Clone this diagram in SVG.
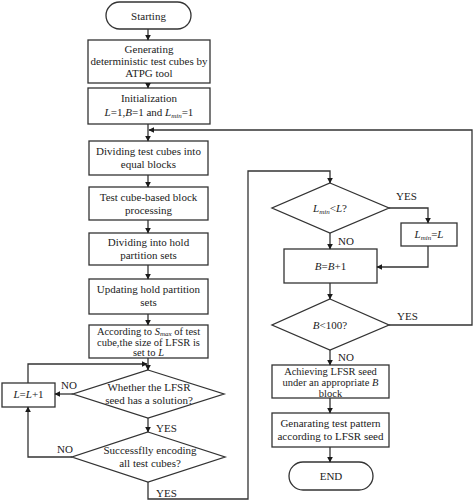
<svg xmlns="http://www.w3.org/2000/svg" width="474" height="502" viewBox="0 0 474 502">
<defs>
<marker id="ah" viewBox="0 0 10 10" refX="9" refY="5" markerWidth="6" markerHeight="6" orient="auto" markerUnits="userSpaceOnUse"><path d="M0,0 L10,5 L0,10 z" fill="#1a1a1a"/></marker>
<style>
.s{fill:#fff;stroke:#333;stroke-width:1.3}
.c{fill:none;stroke:#333;stroke-width:1.3}
text{font-family:"Liberation Serif","Times New Roman",serif;font-size:11px;fill:#222;text-anchor:middle}
.i{font-style:italic}
.sub{font-size:7px;font-style:italic}
.lbl{text-anchor:start}
.sm{font-size:10.5px}
</style>
</defs>
<rect width="474" height="502" fill="#fff"/>
<g id="start"><rect class="s" x="106" y="2" width="85" height="27" rx="13.5"/><text x="148.5" y="19.5">Starting</text></g>
<g id="gen"><rect class="s" x="88" y="40" width="122" height="43"/><text x="149" y="53">Generating</text><text x="149" y="65">deterministic test cubes by</text><text x="149" y="77">ATPG tool</text></g>
<g id="init"><rect class="s" x="88" y="88" width="122" height="36"/><text x="149" y="102">Initialization</text><text x="149" y="116"><tspan class="i">L</tspan>=1,<tspan class="i">B</tspan>=1 and <tspan class="i">L</tspan><tspan class="sub" dy="2">min</tspan><tspan dy="-2">=1</tspan></text></g>
<g id="divide"><rect class="s" x="89" y="141" width="119" height="34"/><text x="148.5" y="155">Dividing test cubes into</text><text x="148.5" y="168">equal blocks</text></g>
<g id="blockproc"><rect class="s" x="89" y="187" width="119" height="33"/><text x="148.5" y="201">Test cube-based block</text><text x="148.5" y="214">processing</text></g>
<g id="hold"><rect class="s" x="89" y="233" width="119" height="32"/><text x="148.5" y="246">Dividing into hold</text><text x="148.5" y="259">partition sets</text></g>
<g id="update"><rect class="s" x="89" y="279" width="119" height="35"/><text x="148.5" y="293">Updating hold partition</text><text x="148.5" y="306">sets</text></g>
<g id="according"><rect class="s" x="89" y="325" width="119" height="33"/><text class="sm" x="148.5" y="334.5">According to <tspan class="i">S</tspan><tspan class="sub" dy="1.5">max</tspan><tspan dy="-1.5"> of test</tspan></text><text class="sm" x="148.5" y="345.5">cube,the size of LFSR is</text><text class="sm" x="148.5" y="356">set to <tspan class="i">L</tspan></text></g>
<g id="d1"><polygon class="s" points="148,370 224,394 148,418 73,394"/><text x="149" y="391">Whether the LFSR</text><text x="149" y="404">seed has a solution?</text></g>
<g id="linc"><rect class="s" x="2" y="383" width="53" height="24"/><text x="28.5" y="398"><tspan class="i">L</tspan>=<tspan class="i">L</tspan>+1</text></g>
<g id="d2"><polygon class="s" points="148,432 225,457 148,482 72,457"/><text x="150" y="454">Successflly encoding</text><text x="150" y="467">all test cubes?</text></g>
<g id="d3"><polygon class="s" points="330,183 389,208 330,233 272,208"/><text x="330" y="212"><tspan class="i">L</tspan><tspan class="sub" dy="2">min</tspan><tspan dy="-2">&lt;</tspan><tspan class="i">L</tspan>?</text></g>
<g id="lmin"><rect class="s" x="401" y="223" width="56" height="23"/><text x="429" y="238"><tspan class="i">L</tspan><tspan class="sub" dy="2">min</tspan><tspan dy="-2">=</tspan><tspan class="i">L</tspan></text></g>
<g id="binc"><rect class="s" x="284" y="249" width="93" height="34"/><text x="330.5" y="270"><tspan class="i">B</tspan>=<tspan class="i">B</tspan>+1</text></g>
<g id="d4"><polygon class="s" points="330,299 389,325 330,350 272,325"/><text x="330" y="329"><tspan class="i">B</tspan>&lt;100?</text></g>
<g id="achieve"><rect class="s" x="272" y="365" width="117" height="33"/><text class="sm" x="330.5" y="375">Achieving LFSR seed</text><text class="sm" x="330.5" y="386">under  an appropriate <tspan class="i">B</tspan></text><text class="sm" x="330.5" y="397">block</text></g>
<g id="genpat"><rect class="s" x="272" y="413" width="117" height="34"/><text x="330.5" y="427">Genarating test pattern</text><text x="330.5" y="440">according to LFSR seed</text></g>
<g id="end"><rect class="s" x="289" y="462" width="84" height="28" rx="14"/><text x="331" y="480">END</text></g>
<g id="connectors">
<path class="c" d="M148,29 V40" marker-end="url(#ah)"/>
<path class="c" d="M148,83 V88" marker-end="url(#ah)"/>
<path class="c" d="M148,124 V141" marker-end="url(#ah)"/>
<path class="c" d="M148,175 V187" marker-end="url(#ah)"/>
<path class="c" d="M148,220 V233" marker-end="url(#ah)"/>
<path class="c" d="M148,265 V279" marker-end="url(#ah)"/>
<path class="c" d="M148,314 V325" marker-end="url(#ah)"/>
<path class="c" d="M148,358 V370" marker-end="url(#ah)"/>
<path class="c" d="M73,394 H55" marker-end="url(#ah)"/>
<path class="c" d="M28,383 V364 H147" marker-end="url(#ah)"/>
<path class="c" d="M148,418 V432" marker-end="url(#ah)"/>
<path class="c" d="M72,457 H28 V407" marker-end="url(#ah)"/>
<path class="c" d="M148,482 V499 H248 V171 H330 V183" marker-end="url(#ah)"/>
<path class="c" d="M389,208 H428 V223" marker-end="url(#ah)"/>
<path class="c" d="M330,233 V249" marker-end="url(#ah)"/>
<path class="c" d="M428,246 V267 H377" marker-end="url(#ah)"/>
<path class="c" d="M330,283 V299" marker-end="url(#ah)"/>
<path class="c" d="M389,325 H472 V130 H149" marker-end="url(#ah)"/>
<path class="c" d="M330,350 V365" marker-end="url(#ah)"/>
<path class="c" d="M330,398 V413" marker-end="url(#ah)"/>
<path class="c" d="M330,447 V462" marker-end="url(#ah)"/>
<text class="lbl" x="61" y="389">NO</text>
<text class="lbl" x="57" y="453">NO</text>
<text class="lbl" x="156" y="432">YES</text>
<text class="lbl" x="156" y="497">YES</text>
<text class="lbl" x="396" y="200">YES</text>
<text class="lbl" x="338" y="245">NO</text>
<text class="lbl" x="397" y="320">YES</text>
<text class="lbl" x="338" y="361">NO</text>
</g>
</svg>
